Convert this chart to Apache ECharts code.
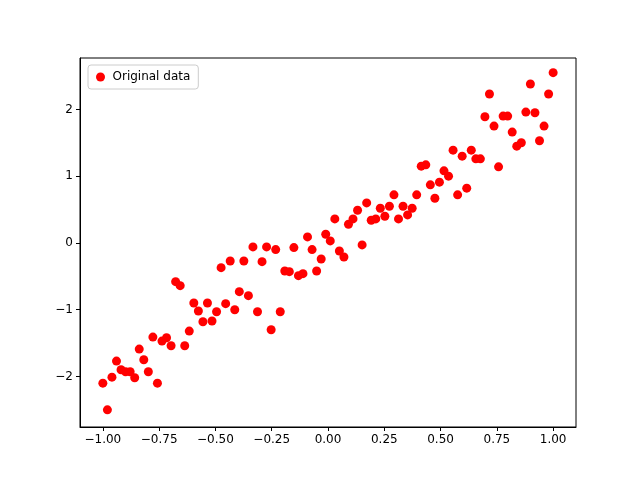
<!DOCTYPE html>
<html><head><meta charset="utf-8">
<script src="https://cdn.jsdelivr.net/npm/echarts@6/dist/echarts.min.js"></script>
<style>html,body{margin:0;padding:0;background:#fff}#c{width:640px;height:480px}</style>
</head><body><div id="c"></div>
<script>
const yValues = [-2.10,-2.50,-2.01,-1.77,-1.90,-1.93,-1.93,-2.02,-1.59,-1.75,
-1.93,-1.41,-2.10,-1.47,-1.42,-1.54,-0.58,-0.64,-1.54,-1.32,
-0.90,-1.02,-1.18,-0.90,-1.17,-1.03,-0.37,-0.91,-0.27,-1.00,
-0.73,-0.27,-0.79,-0.06,-1.03,-0.28,-0.06,-1.30,-0.10,-1.03,
-0.42,-0.43,-0.07,-0.49,-0.46,0.09,-0.10,-0.42,-0.24,0.13,
0.03,0.36,-0.12,-0.21,0.28,0.36,0.49,-0.03,0.60,0.34,
0.36,0.52,0.40,0.55,0.72,0.36,0.55,0.42,0.52,0.72,
1.15,1.17,0.87,0.67,0.91,1.08,1.00,1.39,0.72,1.30,
0.82,1.39,1.26,1.26,1.89,2.23,1.75,1.14,1.90,1.90,
1.66,1.45,1.50,1.96,2.38,1.95,1.53,1.75,2.23,2.55];
const xTicks = [-1.0,-0.75,-0.5,-0.25,0,0.25,0.5,0.75,1.0];
const yTicks = [-2,-1,0,1,2];
const n = yValues.length;
const pts = yValues.map((y,i)=>[-1 + 2*i/(n-1), y]);
const font = 'DejaVu Sans';
const chart = echarts.init(document.getElementById('c'));
chart.setOption({
  animation:false,
  grid:{left:80,right:64,top:58,bottom:53,show:true,borderColor:'#000',borderWidth:1,backgroundColor:'#fff'},
  legend:{left:88,top:65,itemWidth:14,itemHeight:9,padding:[6,8,6,8],borderColor:'#ccc',borderWidth:1,borderRadius:3,
    textStyle:{fontFamily:font,fontSize:12,color:'#000'},data:['Original data']},
  xAxis:{type:'value',min:-1.1015,max:1.1015,
    axisLine:{show:true,onZero:false,lineStyle:{color:'#000'}},
    axisTick:{show:true,customValues:xTicks,length:4,lineStyle:{color:'#000'}},
    axisLabel:{customValues:xTicks,formatter:v=>(v<0?'\u2212':'')+Math.abs(v).toFixed(2),fontFamily:font,fontSize:12,color:'#000',margin:7},
    splitLine:{show:false}},
  yAxis:{type:'value',min:-2.757,max:2.77,
    axisLine:{show:true,onZero:false,lineStyle:{color:'#000'}},
    axisTick:{show:true,customValues:yTicks,length:4,lineStyle:{color:'#000'}},
    axisLabel:{customValues:yTicks,formatter:v=>(v<0?'\u2212':'')+Math.abs(v),fontFamily:font,fontSize:12,color:'#000',margin:7},
    splitLine:{show:false}},
  series:[{name:'Original data',type:'scatter',data:pts,symbol:'circle',symbolSize:9,itemStyle:{color:'#ff0000',opacity:1}}]
});
</script></body></html>
